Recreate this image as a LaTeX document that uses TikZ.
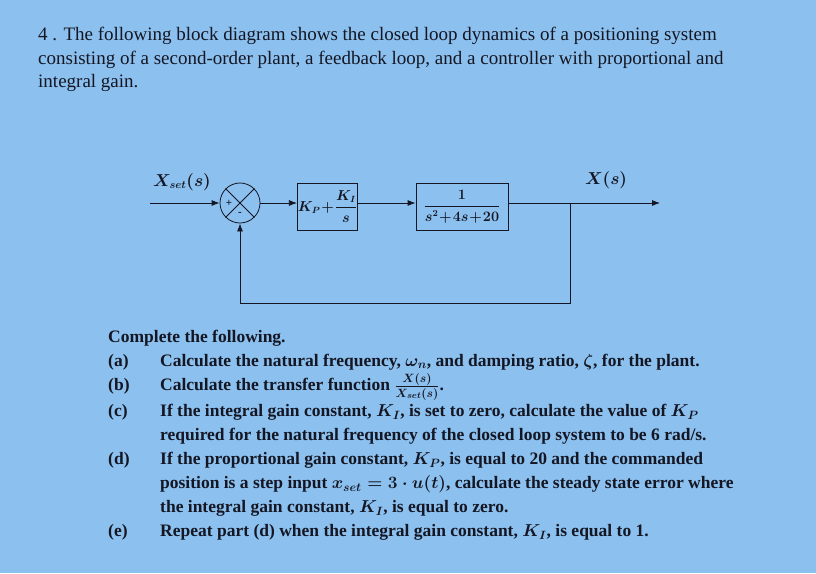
\documentclass[tikz,border=0pt]{standalone}
\usepackage{amsmath}
\usepackage{fontspec}
\setmainfont{Liberation Serif}
\usetikzlibrary{arrows,arrows.meta,positioning,calc}
\definecolor{paper}{RGB}{140,192,238}
\definecolor{ink}{RGB}{20,22,35}

\begin{document}
\begin{tikzpicture}[x=1pt, y=-1pt, color=ink]
  \tikzstyle{block}=[rectangle, draw=ink, thick, minimum height=47pt, inner sep=0.5pt, font=\fontsize{13.5}{15}\selectfont\bfseries\boldmath]
  \tikzstyle{arrow}=[-{Latex[length=8pt,width=6pt]}, thick]
  \tikzstyle{para}=[anchor=north west, align=left, inner sep=0pt]
  \tikzstyle{lbl}=[font=\fontsize{16}{18}\selectfont\bfseries\boldmath]

  \fill[paper] (0,0) rectangle (816,573);
  \useasboundingbox (0,0) rectangle (816,573);

  \node[para, font=\fontsize{19}{23.5}\selectfont] (intro) at (38,27)
    {4 . The following block diagram shows the closed loop dynamics of a positioning system\\
     consisting of a second-order plant, a feedback loop, and a controller with proportional and\\
     integral gain.};

  % block diagram
  \coordinate (in) at (150,203);
  \node[circle, draw=ink, thick, minimum size=40pt, inner sep=0pt] (sum) at (240,203) {};
  \draw[thick] (sum.north west) -- (sum.south east) (sum.north east) -- (sum.south west);
  \node[font=\fontsize{11}{11}\selectfont\bfseries] at ($(sum.center)+(-11,0)$) {+};
  \node[font=\fontsize{11}{11}\selectfont\bfseries] at ($(sum.center)+(0,11)$) {-};
  \node[block, minimum width=53pt] (ctrl) at (327.5,206.5) {$K_P\!+\!\dfrac{K_I}{s}$};
  \node[block, minimum width=92pt] (plant) at (462,206.5) {$\dfrac{1}{s^2\!+\!4s\!+\!20}$};
  \coordinate (out) at (660,203);
  \coordinate (branch) at (570,203);
  \coordinate (corner) at (570,303);

  \draw[arrow] (in) -- (sum);
  \draw[arrow] (sum) -- (sum -| ctrl.west);
  \draw[arrow] (sum -| ctrl.east) -- (sum -| plant.west);
  \draw[arrow] (sum -| plant.east) -- (out);
  \draw[arrow] (branch) -- (corner) -- (corner -| sum) -- (sum);

  \node[lbl] (xset) at (182,182) {$X_{set}(s)$};
  \node[lbl] (xout) at (606,180) {$X(s)$};

  % questions
  \node[para, font=\fontsize{17.5}{24}\selectfont\bfseries\boldmath] (tasks) at (108,325)
    {\begin{tabular}{@{}p{52pt}@{}l@{}}
     \multicolumn{2}{@{}l}{Complete the following.}\\
     (a) & Calculate the natural frequency, $\omega_n$, and damping ratio, $\zeta$, for the plant.\\
     (b) & Calculate the transfer function $\frac{X(s)}{X_{set}(s)}$.\\
     (c) & If the integral gain constant, $K_I$, is set to zero, calculate the value of $K_P$\\
         & required for the natural frequency of the closed loop system to be 6 rad/s.\\
     (d) & If the proportional gain constant, $K_P$, is equal to 20 and the commanded\\
         & position is a step input $x_{set}=3\cdot u(t)$, calculate the steady state error where\\
         & the integral gain constant, $K_I$, is equal to zero.\\
     (e) & Repeat part (d) when the integral gain constant, $K_I$, is equal to 1.
     \end{tabular}};
\end{tikzpicture}
\end{document}
